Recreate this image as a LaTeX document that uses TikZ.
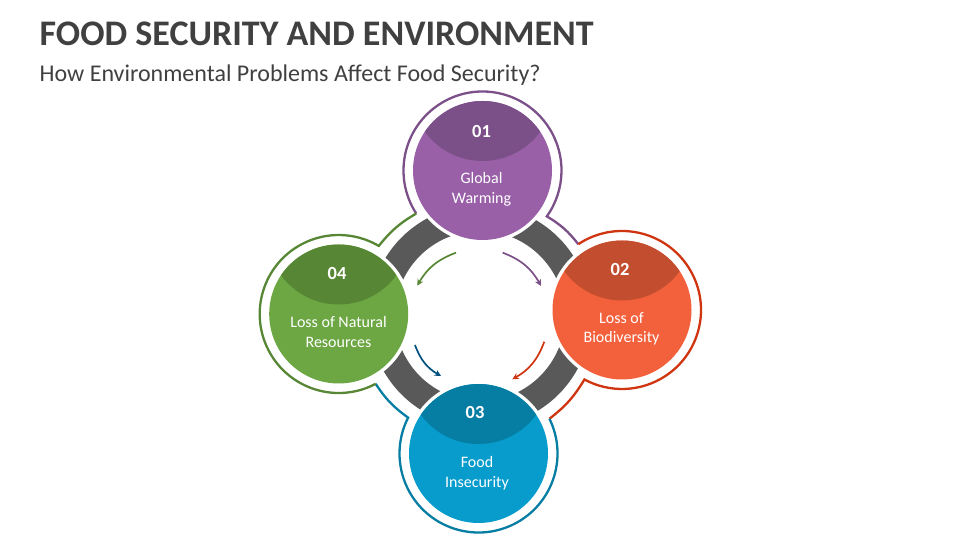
\documentclass[tikz,border=0pt]{standalone}
\usepackage{fontspec}
\setmainfont{Carlito}
\usetikzlibrary{calc,arrows.meta}
\definecolor{ink}{HTML}{404040}
\definecolor{bandgrey}{HTML}{595959}
\definecolor{purA}{HTML}{9960A8}\definecolor{purB}{HTML}{7B4F87}
\definecolor{redA}{HTML}{F3603C}\definecolor{redB}{HTML}{C24E2F}\definecolor{redC}{HTML}{CF3510}
\definecolor{bluA}{HTML}{079CCC}\definecolor{bluB}{HTML}{067DA3}\definecolor{bluC}{HTML}{00517F}
\definecolor{greA}{HTML}{6CA743}\definecolor{greB}{HTML}{578634}
\tikzset{
  outline/.style={line width=2.3pt,line join=miter},
  flow/.style={line width=1.7pt,-{Stealth[length=6.5pt,width=6.5pt]}},
  disc/.style={circle,draw=none,minimum size=139pt,inner sep=0pt,outer sep=0pt},
  gap/.style={circle,fill=white,draw=none,minimum size=146pt,inner sep=0pt},
  num/.style={text=white,font=\fontsize{18.5}{20}\selectfont\bfseries,inner sep=0pt},
  lab/.style={text=white,font=\fontsize{16}{19.5}\selectfont,align=center,inner sep=0pt},
}
\begin{document}
\begin{tikzpicture}[x=1pt,y=1pt]
\useasboundingbox (0,0) rectangle (960,540);
\node[anchor=west,text=ink,font=\fontsize{36}{40}\selectfont\bfseries,inner sep=0pt] (title) at (39.5,506) {FOOD SECURITY AND ENVIRONMENT};
\node[anchor=west,text=ink,font=\fontsize{24}{28}\selectfont,inner sep=0pt] (sub) at (39.5,465) {How Environmental Problems Affect Food Security?};
\coordinate (ring) at (480,224);
\coordinate (c1) at (482.5,369.5);
\coordinate (c2) at (622,230);
\coordinate (c3) at (478.5,86.5);
\coordinate (c4) at (338.7,226);
% grey band
\draw[bandgrey,line width=26pt] (ring) circle (98pt);
\node[gap] at (c1) {};
\node[gap] at (c2) {};
\node[gap] at (c3) {};
\node[gap] at (c4) {};
% outline anchors
\coordinate (a1) at ($(c1)+(213:79pt)$);
\coordinate (a2) at ($(c2)+(123.6:79pt)$);
\coordinate (a3) at ($(c3)+(26.1:79pt)$);
\coordinate (a4) at ($(c4)+(297.9:79pt)$);
\draw[outline,purB] (a1) arc[start angle=213,end angle=-35.5,radius=79pt] to[bend left=10.5] (a2);
\draw[outline,redC] (a2) arc[start angle=123.6,end angle=-118.4,radius=79pt] to[bend left=10.5] (a3);
\draw[outline,bluB] (a3) arc[start angle=26.1,end angle=-207,radius=79pt] to[bend left=10.5] (a4);
\draw[outline,greB] (a4) arc[start angle=297.9,end angle=59.5,radius=79pt] to[bend left=10.5] (a1);
% discs
\node[disc,fill=purA] (n1) at (c1) {};
\node[disc,fill=redA] (n2) at (c2) {};
\node[disc,fill=bluA] (n3) at (c3) {};
\node[disc,fill=greA] (n4) at (c4) {};
\begin{scope}\clip (c1) circle (69.5pt); \fill[purB] ($(c1)+(0,81)$) circle (71.5pt);\end{scope}
\begin{scope}\clip (c2) circle (69.5pt); \fill[redB] ($(c2)+(0,81)$) circle (71.5pt);\end{scope}
\begin{scope}\clip (c3) circle (69.5pt); \fill[bluB] ($(c3)+(0,81)$) circle (71.5pt);\end{scope}
\begin{scope}\clip (c4) circle (69.5pt); \fill[greB] ($(c4)+(0,81)$) circle (71.5pt);\end{scope}
% texts
\node[num] (t1) at (481.5,408) {01};
\node[num] (t2) at (620,270) {02};
\node[num] (t3) at (475,127) {03};
\node[num] (t4) at (337,266) {04};
\node[lab] (l1) at (481.5,350.5) {Global\\Warming};
\node[lab] (l2) at (621.5,211) {Loss of\\Biodiversity};
\node[lab] (l3) at (477,67) {Food\\Insecurity};
\node[lab] (l4) at (338.5,208) {Loss of Natural\\Resources};
% inner arrows
\coordinate (f1a) at (502.7,287.3); \coordinate (f1b) at (541,254);
\coordinate (f2a) at (544.3,198.3); \coordinate (f2b) at (512.3,160.7);
\coordinate (f3a) at (415,195);     \coordinate (f3b) at (441,164);
\coordinate (f4a) at (456,287.3);   \coordinate (f4b) at (417.3,254.3);
\draw[flow,purB] (f1a) to[bend left=20] (f1b);
\draw[flow,redC] (f2a) to[bend left=20] (f2b);
\draw[flow,bluC] (f3a) to[bend right=20] (f3b);
\draw[flow,greB] (f4a) to[bend right=20] (f4b);
\end{tikzpicture}
\end{document}
